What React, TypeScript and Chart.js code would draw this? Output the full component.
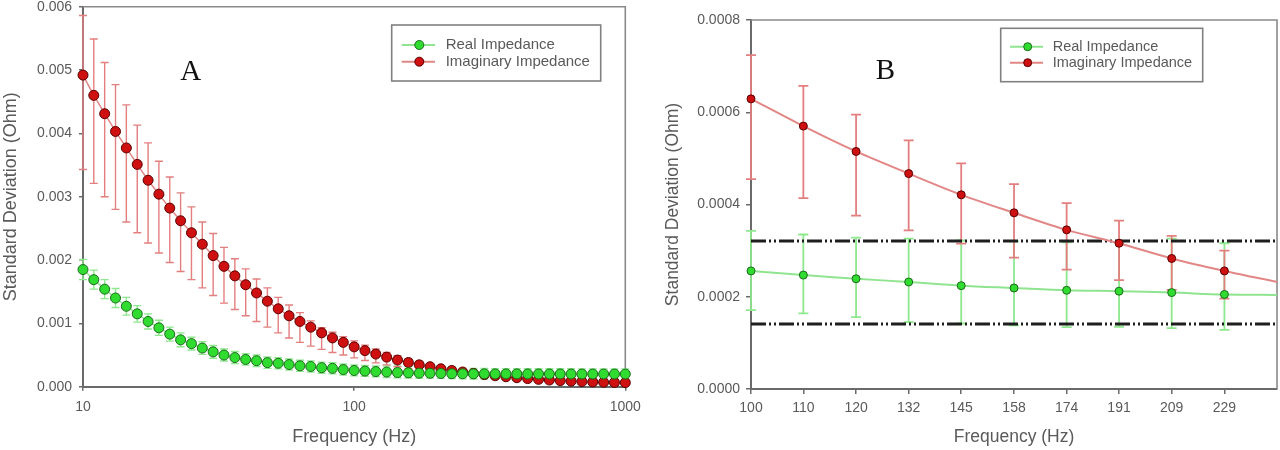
import React, { useEffect, useRef } from "react";
import { Chart, registerables } from "chart.js";

Chart.register(...registerables);

// ---------------- data ----------------
const FREQUENCIES = [
  10, 10.96, 12.02, 13.18, 14.45, 15.85, 17.38, 19.05, 20.89, 22.91,
  25.12, 27.54, 30.2, 33.11, 36.31, 39.81, 43.65, 47.86, 52.48, 57.54,
  63.1, 69.18, 75.86, 83.18, 91.2, 100, 109.6, 120.2, 131.8, 144.5,
  158.5, 173.8, 190.5, 208.9, 229.1, 251.2, 275.4, 302, 331.1, 363.1,
  398.1, 436.5, 478.6, 524.8, 575.4, 631, 691.8, 758.6, 831.8, 912,
  1000,
];

const REAL_SD = [
  0.00185, 0.00169, 0.00154, 0.0014, 0.00127, 0.00115, 0.00103, 0.00093, 0.00083, 0.00074,
  0.00068, 0.00061, 0.00055, 0.0005, 0.00046, 0.00043, 0.00041, 0.00038, 0.00037, 0.00035,
  0.00033, 0.00032, 0.0003, 0.00029, 0.00027, 0.000256, 0.000247, 0.000239, 0.000232, 0.000224,
  0.000219, 0.000214, 0.000212, 0.000209, 0.000205, 0.000204, 0.000203, 0.000203, 0.000202, 0.000202,
  0.000202, 0.000201, 0.000201, 0.000201, 0.000201, 0.0002, 0.0002, 0.0002, 0.0002, 0.0002,
  0.0002,
];
const REAL_UPPER = [
  0.00201, 0.00184, 0.00169, 0.00155, 0.00141, 0.00128, 0.00115, 0.00105, 0.00094, 0.00085,
  0.00078, 0.00071, 0.00065, 0.000595, 0.000555, 0.00052, 0.0005, 0.00047, 0.000458, 0.000438,
  0.000418, 0.000408, 0.000388, 0.000378, 0.000358, 0.000343, 0.000335, 0.000328, 0.000326, 0.000322,
  0.00032, 0.000318, 0.000318, 0.000326, 0.000316, 0.00029, 0.000288, 0.000287, 0.000286, 0.000285,
  0.000285, 0.000284, 0.000284, 0.000284, 0.000283, 0.000283, 0.000282, 0.000282, 0.000282, 0.000282,
  0.000282,
];
const REAL_LOWER = [
  0.00169, 0.00154, 0.00139, 0.00125, 0.00113, 0.00102, 0.00091, 0.00081, 0.00072, 0.00063,
  0.00058, 0.00051, 0.00045, 0.000405, 0.000365, 0.00034, 0.00032, 0.00029, 0.000282, 0.000262,
  0.000242, 0.000232, 0.000212, 0.000202, 0.000182, 0.000171, 0.000164, 0.000156, 0.000145, 0.000142,
  0.000138, 0.000134, 0.000135, 0.000132, 0.000128, 0.000124, 0.000122, 0.000121, 0.00012, 0.000119,
  0.000119, 0.000118, 0.000118, 0.000118, 0.000118, 0.000117, 0.000117, 0.000117, 0.000117, 0.000117,
  0.000117,
];

const IMAG_SD = [
  0.00492, 0.0046, 0.00431, 0.00403, 0.00377, 0.00351, 0.00326, 0.00304, 0.00282, 0.00262,
  0.00243, 0.00225, 0.00207, 0.0019, 0.00175, 0.00161, 0.00148, 0.00135, 0.00123, 0.00112,
  0.00103, 0.00094, 0.00085, 0.00077, 0.0007, 0.000629, 0.00057, 0.000515, 0.000467, 0.000421,
  0.000382, 0.000345, 0.000316, 0.000283, 0.000256, 0.000232, 0.000211, 0.000191, 0.000173, 0.000157,
  0.000142, 0.000128, 0.000116, 0.000105, 0.000096, 0.000088, 0.000081, 0.000075, 0.00007, 0.000067,
  0.000064,
];
const IMAG_UPPER = [
  0.00586, 0.00549, 0.00512, 0.00477, 0.00445, 0.00413, 0.00385, 0.00356, 0.00331, 0.00306,
  0.00284, 0.0026, 0.00242, 0.0022, 0.00202, 0.00186, 0.0017, 0.00156, 0.00141, 0.00129,
  0.00117, 0.00104, 0.00093, 0.00086, 0.00079, 0.000724, 0.000657, 0.000595, 0.000539, 0.000489,
  0.000444, 0.000403, 0.000365, 0.000332, 0.0003, 0.00027, 0.000245, 0.00022, 0.0002, 0.00018,
  0.000163, 0.000147, 0.000133, 0.00012, 0.00011, 0.0001, 0.000092, 0.000085, 0.000079, 0.000075,
  0.000071,
];
const IMAG_LOWER = [
  0.00343, 0.00321, 0.003, 0.0028, 0.0026, 0.00243, 0.00227, 0.00211, 0.00196, 0.00182,
  0.00169, 0.00156, 0.00144, 0.00132, 0.00122, 0.00112, 0.00103, 0.00094, 0.00085, 0.00077,
  0.0007, 0.00064, 0.00059, 0.00054, 0.0005, 0.000455, 0.000414, 0.000376, 0.000344, 0.000315,
  0.000285, 0.000259, 0.000236, 0.000215, 0.000196, 0.00018, 0.000165, 0.00015, 0.000138, 0.000126,
  0.000115, 0.000105, 0.000096, 0.000088, 0.00008, 0.000074, 0.000068, 0.000063, 0.000059, 0.000056,
  0.000054,
];

const SERIES_LABELS = ["Real Impedance", "Imaginary Impedance"];

const A_X_TICKS = [10, 100, 1000];
const A_Y_TICKS = [0, 0.001, 0.002, 0.003, 0.004, 0.005, 0.006];

const B_X_TICKS = [100, 109.6, 120.2, 131.8, 144.5, 158.5, 173.8, 190.5, 208.9, 229.1];
const B_X_LABELS = ["100", "110", "120", "132", "145", "158", "174", "191", "209", "229"];
const B_Y_TICKS = [0, 0.0002, 0.0004, 0.0006, 0.0008];
const B_LIMITS = [0.000321, 0.000141];
const B_FIRST = 25; // index of 100 Hz
const B_LAST = 35; // index of 251 Hz (right edge of panel B)

// ---------------- styles ----------------
const FONT = '"Liberation Sans", Arial, Helvetica, sans-serif';
const SERIF = '"Liberation Serif", "Times New Roman", serif';
const TEXT = "#5a5a5a";
const AXIS = "#6a6a6a";
const GREEN_FILL = "#2fdc2f";
const GREEN_EDGE = "#1c6a1c";
const GREEN_LINE = "#8fe48f";
const GREEN_ERR = "#8ee88e";
const RED_FILL = "#cf1010";
const RED_EDGE = "#5a0000";
const RED_LINE = "#e28686";
const RED_ERR = "#e47f7f";

const decorPlugin: any = {
  id: "panelDecor",
  beforeDatasetsDraw(chart: any, _args: any, opts: any) {
    const { ctx, chartArea: ca } = chart;
    ctx.save();
    ctx.strokeStyle = opts.frameColor;
    ctx.lineWidth = opts.frameWidth;
    ctx.beginPath();
    ctx.moveTo(ca.left, ca.top);
    ctx.lineTo(ca.right, ca.top);
    ctx.lineTo(ca.right, ca.bottom);
    ctx.stroke();

    const ys = chart.scales.y;
    chart.data.datasets.forEach((ds: any, i: number) => {
      if (!ds.errUpper) return;
      const meta = chart.getDatasetMeta(i);
      ctx.strokeStyle = ds.errColor;
      ctx.lineWidth = opts.errWidth;
      meta.data.forEach((pt: any, j: number) => {
        if (!pt.options || pt.options.radius === 0) return;
        const yt = ys.getPixelForValue(ds.errUpper[j]);
        const yb = ys.getPixelForValue(ds.errLower[j]);
        const c = opts.capHalf;
        ctx.beginPath();
        ctx.moveTo(pt.x, yt);
        ctx.lineTo(pt.x, yb);
        ctx.moveTo(pt.x - c, yt);
        ctx.lineTo(pt.x + c, yt);
        ctx.moveTo(pt.x - c, yb);
        ctx.lineTo(pt.x + c, yb);
        ctx.stroke();
      });
    });
    ctx.restore();
  },
  afterDraw(chart: any, _args: any, opts: any) {
    const { ctx } = chart;
    const L = opts.legend;
    ctx.save();
    ctx.strokeStyle = "#808080";
    ctx.lineWidth = 1.6;
    ctx.strokeRect(L.box[0], L.box[1], L.box[2] - L.box[0], L.box[3] - L.box[1]);
    ctx.font = `${L.size}px ${FONT}`;
    ctx.textBaseline = "middle";
    ctx.textAlign = "left";
    let row = 0;
    chart.data.datasets.forEach((ds: any) => {
      if (!ds.inLegend) return;
      const y = L.rows[row++];
      ctx.strokeStyle = ds.borderColor;
      ctx.lineWidth = 2;
      ctx.beginPath();
      ctx.moveTo(L.line[0], y);
      ctx.lineTo(L.line[1], y);
      ctx.stroke();
      ctx.beginPath();
      ctx.arc(L.marker, y, L.r, 0, Math.PI * 2);
      ctx.fillStyle = ds.pointBackgroundColor;
      ctx.fill();
      ctx.strokeStyle = ds.pointBorderColor;
      ctx.lineWidth = 1;
      ctx.stroke();
      ctx.fillStyle = TEXT;
      ctx.fillText(ds.label, L.textX, y);
    });
    const T = opts.letter;
    ctx.font = `${T.size}px ${SERIF}`;
    ctx.fillStyle = "#111";
    ctx.textAlign = "center";
    ctx.textBaseline = "middle";
    ctx.fillText(T.text, T.x, T.y);
    ctx.restore();
  },
};

function seriesPoints(values: number[], from: number, to: number) {
  const pts: { x: number; y: number }[] = [];
  for (let i = from; i <= to; i++) pts.push({ x: FREQUENCIES[i], y: values[i] });
  return pts;
}

function makeDatasets(panel: "A" | "B") {
  const from = panel === "A" ? 0 : B_FIRST;
  const to = panel === "A" ? FREQUENCIES.length - 1 : B_LAST;
  const n = to - from + 1;
  const radius = panel === "A" ? 5 : 4;
  const radii = Array.from({ length: n }, (_, i) => (panel === "B" && i === n - 1 ? 0 : radius));
  const common = {
    showLine: true,
    pointRadius: radii,
    pointBorderWidth: 1,
    borderWidth: panel === "A" ? 1.5 : 2,
    tension: panel === "A" ? 0 : 0.3,
    clip: false as any,
  };
  const ds: any[] = [
    {
      ...common,
      label: SERIES_LABELS[0],
      data: seriesPoints(REAL_SD, from, to),
      borderColor: GREEN_LINE,
      backgroundColor: GREEN_FILL,
      pointBackgroundColor: GREEN_FILL,
      pointBorderColor: GREEN_EDGE,
      errUpper: REAL_UPPER.slice(from, to + 1),
      errLower: REAL_LOWER.slice(from, to + 1),
      errColor: GREEN_ERR,
      inLegend: true,
      order: 0,
    },
    {
      ...common,
      label: SERIES_LABELS[1],
      data: seriesPoints(IMAG_SD, from, to),
      borderColor: RED_LINE,
      backgroundColor: RED_FILL,
      pointBackgroundColor: RED_FILL,
      pointBorderColor: RED_EDGE,
      errUpper: IMAG_UPPER.slice(from, to + 1),
      errLower: IMAG_LOWER.slice(from, to + 1),
      errColor: RED_ERR,
      inLegend: true,
      order: 1,
    },
  ];
  if (panel === "B") {
    B_LIMITS.forEach((v, k) => {
      ds.push({
        label: "limit " + (k + 1),
        data: [
          { x: FREQUENCIES[B_FIRST], y: v },
          { x: FREQUENCIES[B_LAST], y: v },
        ],
        borderColor: "#1e1e1e",
        borderWidth: 3,
        borderDash: [15, 3, 2, 3, 2, 3],
        pointRadius: 0,
        clip: false,
        order: 2,
      });
    });
  }
  return ds;
}

function makeConfig(panel: "A" | "B"): any {
  const isA = panel === "A";
  const plotTop = isA ? 6.7 : 20;
  const plotBottom = isA ? 386.7 : 389;
  const axisWidth = isA ? 83 : 109;
  const tickLen = isA ? 4 : 5;
  const titleSize = isA ? 18 : 17.5;
  const grid = {
    display: true,
    drawOnChartArea: false,
    drawTicks: true,
    tickLength: tickLen,
    color: AXIS,
    lineWidth: 1.5,
  };
  const border = { display: true, color: AXIS, width: 2 };
  return {
    type: "line",
    data: { datasets: makeDatasets(panel) },
    plugins: [decorPlugin],
    options: {
      animation: false,
      responsive: false,
      events: [],
      layout: {
        autoPadding: false,
        padding: { left: 0, top: plotTop, right: isA ? 16.7 : 3, bottom: 0 },
      },
      scales: {
        x: {
          type: "logarithmic",
          min: isA ? 10 : FREQUENCIES[B_FIRST],
          max: isA ? 1000 : FREQUENCIES[B_LAST],
          afterBuildTicks: (s: any) => {
            s.ticks = (isA ? A_X_TICKS : B_X_TICKS).map((v) => ({ value: v }));
          },
          afterFit: (s: any) => {
            s.height = 450 - plotBottom;
            s.paddingLeft = 0;
            s.paddingRight = 0;
          },
          ticks: {
            autoSkip: false,
            maxRotation: 0,
            padding: isA ? 8 : 5.6,
            color: TEXT,
            font: { family: FONT, size: 14, lineHeight: 1.2 },
            callback: (v: any, i: number) => (isA ? String(v) : B_X_LABELS[i]),
          },
          grid,
          border,
          title: {
            display: true,
            text: "Frequency (Hz)",
            color: TEXT,
            font: { family: FONT, size: titleSize, lineHeight: 1.2 },
            padding: { top: 0, bottom: isA ? 2.2 : 2.5 },
          },
        },
        y: {
          type: "linear",
          min: 0,
          max: isA ? 0.006 : 0.0008,
          afterBuildTicks: (s: any) => {
            s.ticks = (isA ? A_Y_TICKS : B_Y_TICKS).map((v) => ({ value: v }));
          },
          afterFit: (s: any) => {
            s.width = axisWidth;
            s.paddingTop = 0;
            s.paddingBottom = 0;
          },
          ticks: {
            autoSkip: false,
            padding: isA ? 7 : 6,
            color: TEXT,
            font: { family: FONT, size: 14, lineHeight: 1.2 },
            callback: (v: any) => Number(v).toFixed(isA ? 3 : 4),
          },
          grid,
          border,
          title: {
            display: true,
            text: "Standard Deviation (Ohm)",
            color: TEXT,
            font: { family: FONT, size: titleSize, lineHeight: 1.2 },
            padding: { top: isA ? 0.6 : 20.5, bottom: 0 },
          },
        },
      },
      plugins: {
        legend: { display: false },
        tooltip: { enabled: false },
        panelDecor: {
          frameColor: "#8a8a8a",
          frameWidth: 1.6,
          errWidth: isA ? 1.4 : 1.8,
          capHalf: isA ? 4 : 5,
          legend: isA
            ? {
                box: [391.7, 25, 600.7, 81],
                line: [401.7, 435],
                marker: 419.3,
                r: 4.5,
                textX: 445.7,
                rows: [45, 61.7],
                size: 15,
              }
            : {
                box: [358.7, 28.3, 560.7, 81.7],
                line: [368, 401],
                marker: 385.7,
                r: 4,
                textX: 410.7,
                rows: [46.7, 62.7],
                size: 14.5,
              },
          letter: isA
            ? { text: "A", x: 190.7, y: 72, size: 29 }
            : { text: "B", x: 243.5, y: 71, size: 29 },
        },
      },
    },
  };
}

function ChartPanel({ panel, left, width }: { panel: "A" | "B"; left: number; width: number }) {
  const ref = useRef<HTMLCanvasElement>(null);
  useEffect(() => {
    if (!ref.current) return;
    const chart = new Chart(ref.current, makeConfig(panel));
    return () => chart.destroy();
  }, [panel]);
  return (
    <canvas
      ref={ref}
      width={width}
      height={450}
      style={{ position: "absolute", left, top: 0, width, height: 450 }}
    />
  );
}

export default function App() {
  return (
    <div style={{ position: "absolute", left: 0, top: 0, width: 1280, height: 450, background: "#fff" }}>
      <ChartPanel panel="A" left={0} width={642} />
      <ChartPanel panel="B" left={642} width={638} />
    </div>
  );
}
